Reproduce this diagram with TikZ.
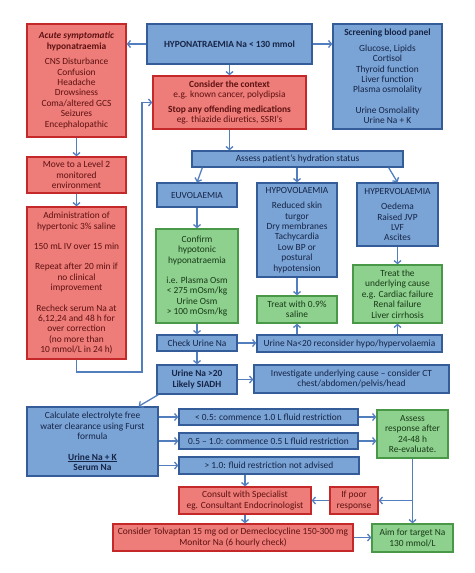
\documentclass[tikz,border=0pt]{standalone}
\usepackage{fontspec}
\setmainfont{Carlito}
\usepackage{xcolor}
\usetikzlibrary{arrows.meta, positioning, calc}

\definecolor{bluefill}{RGB}{122,164,214}
\definecolor{blueline}{RGB}{52,92,152}
\definecolor{bluetext}{RGB}{22,36,70}
\definecolor{redfill}{RGB}{238,124,120}
\definecolor{redline}{RGB}{196,40,40}
\definecolor{redtext}{RGB}{92,18,18}
\definecolor{greenfill}{RGB}{142,208,142}
\definecolor{greenline}{RGB}{72,152,72}
\definecolor{greentext}{RGB}{24,58,24}
\definecolor{arrowblue}{RGB}{82,126,190}

\begin{document}
\begin{tikzpicture}[
    x=1pt, y=-1pt,
    box/.style={draw, line width=1.3pt, align=center, inner sep=0pt,
        font=\fontsize{9.4}{10.4}\selectfont},
    dims/.style 2 args={minimum width=#1pt, minimum height=#2pt},
    bluebox/.style={box, fill=bluefill, draw=blueline, text=bluetext},
    redbox/.style={box, fill=redfill, draw=redline, text=redtext},
    greenbox/.style={box, fill=greenfill, draw=greenline, text=greentext},
    arr/.style={-{Straight Barb[length=3pt, width=7pt]}, line width=1.3pt, draw=arrowblue}
]
\useasboundingbox (0,0) rectangle (474,573);

% top row
\node[redbox, dims={99}{113}] (acute) at (76.5,80.5) {\textbf{\textit{Acute symptomatic}}\\\textbf{hyponatraemia}\\[5pt]
    CNS Disturbance\\Confusion\\Headache\\Drowsiness\\Coma/altered GCS\\Seizures\\Encephalopathic};
\node[bluebox, dims={165}{40}] (hypo) at (229.5,44) {\textbf{HYPONATRAEMIA Na < 130 mmol}};
\node[bluebox, dims={109}{105}] (screen) at (387.5,76.5) {\textbf{Screening blood panel}\\[5pt]
    Glucose, Lipids\\Cortisol\\Thyroid function\\Liver function\\Plasma osmolality\\[10pt]Urine Osmolality\\Urine Na + K};
\node[redbox, dims={153}{53}] (context) at (229.5,102.5) {\textbf{Consider the context}\\e.g. known cancer, polydipsia\\[4pt]
    \textbf{Stop any offending medications}\\eg. thiazide diuretics, SSRI's};

% acute branch
\node[redbox, dims={99}{36}] (move) at (76.5,175) {Move to a Level 2\\monitored\\environment};
\node[redbox, dims={99}{152}] (admin) at (76.5,283) {Administration of\\hypertonic 3\% saline\\[10pt]150 mL IV over 15 min\\[10pt]
    Repeat after 20 min if\\no clinical\\improvement\\[10pt]Recheck serum Na at\\6,12,24 and 48 h for\\over correction\\(no more than\\10 mmol/L in 24 h)};
\coordinate (loop) at (142,372);

% hydration status
\node[bluebox, dims={211}{16}] (hydration) at (297.5,159) {Assess patient's hydration status};
\node[bluebox, dims={80}{24}] (euvo) at (197,195) {EUVOLAEMIA};
\node[bluebox, dims={80}{94}] (hypovol) at (297,230) {HYPOVOLAEMIA\\[5pt]Reduced skin\\turgor\\Dry membranes\\Tachycardia\\Low BP or\\postural\\hypotension};
\node[bluebox, dims={81}{63}] (hypervol) at (397.5,214.5) {HYPERVOLAEMIA\\[5pt]Oedema\\Raised JVP\\LVF\\Ascites};
\node[greenbox, dims={82}{94}] (confirm) at (197,276) {Confirm\\hypotonic\\hyponatraemia\\[10pt]i.e. Plasma Osm\\< 275 mOsm/kg\\Urine Osm\\> 100 mOsm/kg};
\node[greenbox, dims={80}{27}] (saline) at (297,309.5) {Treat with 0.9\%\\saline};
\node[greenbox, dims={89}{58}] (underlying) at (397.5,294) {Treat the\\underlying cause\\e.g. Cardiac failure\\Renal failure\\Liver cirrhosis};

% urine sodium
\node[bluebox, dims={80}{16}] (check) at (197,343) {Check Urine Na};
\node[bluebox, dims={185}{17}] (reconsider) at (349.5,343.5) {Urine Na<20 reconsider hypo/hypervolaemia};
\node[bluebox, dims={80}{29}] (siadh) at (197,379.5) {\textbf{Urine Na >20}\\\textbf{Likely SIADH}};
\node[bluebox, dims={195}{28}] (investigate) at (351.5,379) {Investigate underlying cause -- consider CT\\chest/abdomen/pelvis/head};

% fluid restriction
\node[bluebox, dims={131}{69}] (calc) at (92.5,441.5) {Calculate electrolyte free\\water clearance using Furst\\formula\\[10pt]
    \underline{\textbf{Urine Na + K}}\\\textbf{Serum Na}};
\node[bluebox, dims={179}{16}] (lowfr) at (268.5,417) {< 0.5: commence 1.0 L fluid restriction};
\node[bluebox, dims={179}{16}] (midfr) at (268.5,441) {0.5 -- 1.0: commence 0.5 L fluid restriction};
\node[bluebox, dims={180}{17}] (highfr) at (269,465.5) {> 1.0: fluid restriction not advised};
\node[greenbox, dims={71}{48}] (response) at (412.5,434) {Assess\\response after\\24-48 h\\Re-evaluate.};

% specialist
\node[redbox, dims={132}{27}] (consult) at (245,500.5) {Consult with Specialist\\eg. Consultant Endocrinologist};
\node[redbox, dims={48}{27}] (poor) at (354,500.5) {If poor\\response};
\node[redbox, dims={240}{27}] (tolvaptan) at (233,537.5) {Consider Tolvaptan 15 mg od or Demeclocycline 150-300 mg\\Monitor Na (6 hourly check)};
\node[greenbox, dims={81}{28}] (aim) at (412.5,538) {Aim for target Na\\130 mmol/L};

% connectors
\draw[arr] (hypo.west) -- (acute.east |- hypo.west);
\draw[arr] (hypo.east) -- (screen.west |- hypo.east);
\draw[arr] (hypo.south) -- (context.north);
\draw[arr] (context.south) -- (context.south |- hydration.north);
\draw[arr] (acute.south) -- (move.north);
\draw[arr] (move.south) -- (admin.north);
\draw[arr] (admin.south) |- (loop) |- (context.west);

\draw[arr] ($(hydration.south west)+(11,0)$) -- (euvo.north);
\draw[arr] (hypovol.north |- hydration.south) -- (hypovol.north);
\draw[arr] ($(hydration.south east)+(-15,0)$) -- (hypervol.north);
\draw[arr] (euvo.south) -- (confirm.north);
\draw[arr] (confirm.south) -- (check.north);
\draw[arr] (hypovol.south) -- (saline.north);
\draw[arr] (hypervol.south) -- (underlying.north);
\draw[arr] (saline.south |- reconsider.north) -- (saline.south);
\draw[arr] (underlying.south |- reconsider.north) -- (underlying.south);
\draw[arr] (check.east) -- (reconsider.west |- check.east);
\draw[arr] (check.south) -- (siadh.north);
\draw[arr] (siadh.east) -- (investigate.west |- siadh.east);
\draw[arr] ($(siadh.south west)+(2,0)$) -- ($(calc.north east)+(-20,0)$);

\draw[arr] (calc.east |- lowfr) -- (lowfr.west);
\draw[arr] (calc.east |- midfr) -- (midfr.west);
\draw[arr] (calc.east |- highfr) -- (highfr.west);
\draw[arr] (lowfr.east) -- (response.west |- lowfr.east);
\draw[arr] (midfr.east) -- (response.west |- midfr.east);
\draw[arr] (consult.north |- highfr.south) -- (consult.north);
\draw[arr] (response.south) -- (aim.north);
\draw[arr] (response.south |- poor.east) -- (poor.east);
\draw[arr] (poor.west) -- (consult.east);
\draw[arr] (consult.south) -- (consult.south |- tolvaptan.north);
\draw[arr] (tolvaptan.east) -- (aim.west |- tolvaptan.east);
\end{tikzpicture}
\end{document}
